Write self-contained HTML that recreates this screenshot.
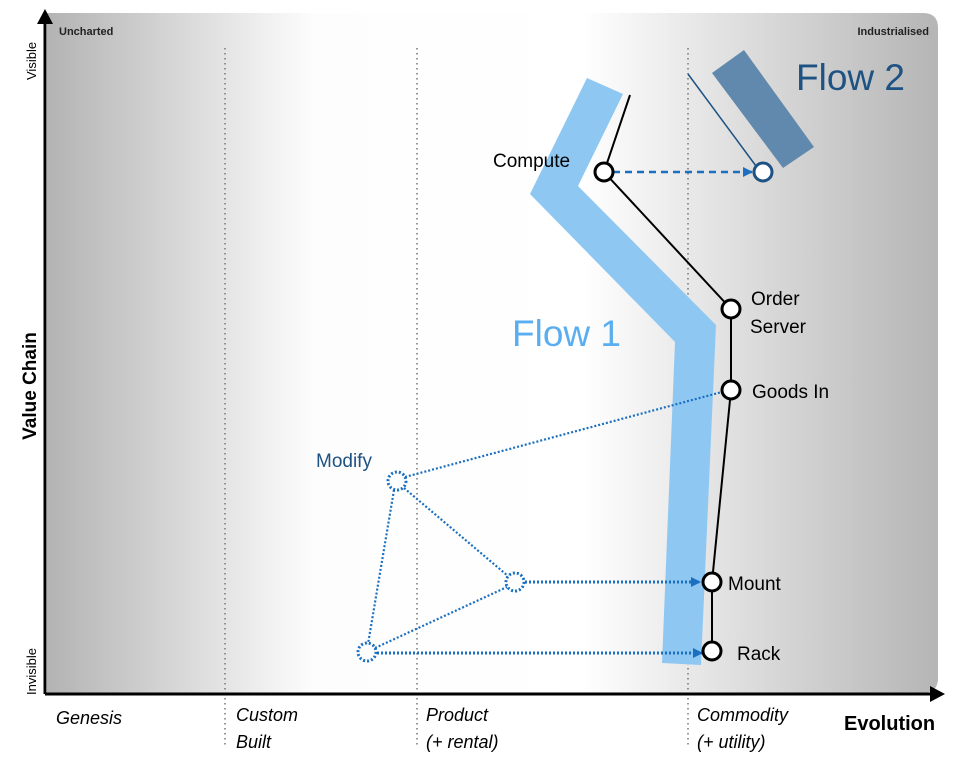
<!DOCTYPE html>
<html><head><meta charset="utf-8"><style>
body{margin:0;background:#fff;width:971px;height:758px;overflow:hidden}
svg{display:block}
text{font-family:"Liberation Sans",sans-serif}
</style></head><body>
<svg width="971" height="758" viewBox="0 0 971 758" xmlns="http://www.w3.org/2000/svg">
<defs>
<linearGradient id="bg" x1="47" y1="0" x2="938" y2="0" gradientUnits="userSpaceOnUse">
<stop offset="0" stop-color="#b3b3b3"/>
<stop offset="0.3" stop-color="#fdfdfd"/>
<stop offset="0.6" stop-color="#ffffff"/>
<stop offset="1" stop-color="#b5b5b5"/>
</linearGradient>
<marker id="ab" markerWidth="10" markerHeight="10" refX="9" refY="5" orient="auto" markerUnits="userSpaceOnUse"><path d="M0,0 L10,5 L0,10 z" fill="#1a6fc0"/></marker>
</defs>
<path d="M47,13 H923 Q938,13 938,28 V678 Q938,693 923,693 H47 Z" fill="url(#bg)"/>
<g stroke="#777" stroke-width="1.5" stroke-dasharray="1.5,3.5">
<line x1="225" y1="48" x2="225" y2="748"/>
<line x1="417" y1="48" x2="417" y2="748"/>
<line x1="688" y1="48" x2="688" y2="748"/>
</g>
<line x1="45" y1="694" x2="930" y2="694" stroke="#000" stroke-width="3"/>
<path d="M930,686 L945,694 L930,702 z" fill="#000"/>
<line x1="45" y1="694" x2="45" y2="22" stroke="#000" stroke-width="3"/>
<path d="M37,24 L45,9 L53,24 z" fill="#000"/>
<text x="59" y="35" font-size="11" font-weight="bold" fill="#222">Uncharted</text>
<text x="929" y="35" font-size="11" font-weight="bold" fill="#222" text-anchor="end">Industrialised</text>
<text transform="translate(36,80) rotate(-90)" font-size="13" fill="#000">Visible</text>
<text transform="translate(36,695) rotate(-90)" font-size="13" fill="#000">Invisible</text>
<text transform="translate(36,386) rotate(-90)" font-size="19" font-weight="bold" fill="#000" text-anchor="middle">Value Chain</text>
<g font-size="18" font-style="italic" fill="#000">
<text x="56" y="724">Genesis</text>
<text x="236" y="721">Custom</text><text x="236" y="748">Built</text>
<text x="426" y="721">Product</text><text x="426" y="748">(+ rental)</text>
<text x="697" y="721">Commodity</text><text x="697" y="748">(+ utility)</text>
</g>
<text x="844" y="730" font-size="20" font-weight="bold" fill="#000">Evolution</text>
<polygon points="587,78 623,94 578,186 716,325 701,665 662,663 675,342 530,194" fill="#8ec8f2"/>
<polygon points="712,73 744,50 814,147 783,168" fill="#6189ad"/>
<text x="512" y="346" font-size="37" fill="#5aaef0">Flow 1</text>
<text x="796" y="90" font-size="37" fill="#1d5283">Flow 2</text>
<line x1="688" y1="74" x2="756" y2="166" stroke="#1d5283" stroke-width="1.5"/>
<polyline points="630,95 604,172 731,309 731,390 712,582 712,651" fill="none" stroke="#000" stroke-width="2"/>
<line x1="613" y1="172" x2="752" y2="172" stroke="#1a6fc0" stroke-width="2.5" stroke-dasharray="7,5" marker-end="url(#ab)"/>
<g stroke="#1a6fc0" stroke-width="2.2" stroke-dasharray="2,2" fill="none">
<line x1="405" y1="477" x2="722" y2="392"/>
<line x1="404" y1="488" x2="508" y2="576"/>
<line x1="394" y1="490" x2="368" y2="644"/>
<line x1="375" y1="648" x2="507" y2="587"/>
<line x1="525" y1="582" x2="700" y2="582" stroke-width="3" marker-end="url(#ab)"/>
<line x1="377" y1="653" x2="702" y2="653" stroke-width="3" marker-end="url(#ab)"/>
<circle cx="397" cy="481" r="9" stroke-width="3"/>
<circle cx="515" cy="582" r="9" stroke-width="3"/>
<circle cx="367" cy="652" r="9" stroke-width="3"/>
</g>
<text x="316" y="467" font-size="19" fill="#1d5283">Modify</text>
<g fill="#fff" stroke="#000" stroke-width="3">
<circle cx="604" cy="172" r="9"/>
<circle cx="731" cy="309" r="9"/>
<circle cx="731" cy="390" r="9"/>
<circle cx="712" cy="582" r="9"/>
<circle cx="712" cy="651" r="9"/>
</g>
<circle cx="763" cy="172" r="9" fill="#fff" stroke="#1d5283" stroke-width="3"/>
<g font-size="19" fill="#000">
<text x="493" y="167">Compute</text>
<text x="751" y="305">Order</text><text x="750" y="333">Server</text>
<text x="752" y="398">Goods In</text>
<text x="728" y="590">Mount</text>
<text x="737" y="660">Rack</text>
</g>
</svg>
</body></html>
